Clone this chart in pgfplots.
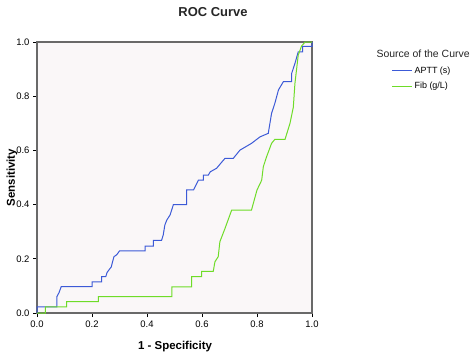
\documentclass[border=0pt]{standalone}
\usepackage{pgfplots}
\pgfplotsset{compat=1.18}
\usepackage{fontspec}
\setmainfont{Liberation Sans}
\definecolor{apttblue}{RGB}{60,90,215}
\definecolor{fibgreen}{RGB}{110,220,40}
\definecolor{plotbg}{RGB}{250,247,248}
\definecolor{framegray}{RGB}{105,105,105}
\begin{document}
\begin{tikzpicture}
\begin{axis}[
  at={(0bp,0bp)}, anchor=south west,
  scale only axis, width=275bp, height=271bp,
  xmin=0, xmax=1, ymin=0, ymax=1,
  xtick={0,0.2,...,1.0}, ytick={0,0.2,...,1.0},
  xticklabel style={/pgf/number format/.cd,fixed,fixed zerofill,precision=1},
  yticklabel style={/pgf/number format/.cd,fixed,fixed zerofill,precision=1},
  /pgf/number format/assume math mode=true,
  ticklabel style={font=\fontsize{9.5}{10}\selectfont},
  tick align=outside, tick pos=left,
  major tick length=4bp,
  tick style={black, line width=0.8bp},
  axis line style={framegray, line width=1.1bp},
  axis background/.style={fill=plotbg},
  xlabel={\textbf{1 - Specificity}},
  ylabel={\textbf{Sensitivity}},
  label style={font=\fontsize{11.5}{12}\selectfont},
  xlabel style={at={(axis description cs:0.502,-0.125)}, anchor=center},
  ylabel style={at={(axis description cs:-0.091,0.5)}, anchor=center},
  legend style={at={(axis description cs:1.285,0.92)}, anchor=north west,
    draw=none, fill=none, font=\fontsize{9}{10}\selectfont,
    row sep=3.5bp, inner sep=1bp},
  legend cell align=left,
  legend image code/.code={\draw[#1] (0bp,0bp) -- (20bp,0bp);},
  clip=false,
]
\addplot[apttblue, line width=1bp] coordinates {
(0,0) (0,0.023) (0.072,0.023) (0.072,0.06) (0.08,0.075) (0.088,0.097)
(0.2,0.097) (0.2,0.115) (0.235,0.115) (0.235,0.134) (0.25,0.134)
(0.255,0.15) (0.27,0.17) (0.275,0.19) (0.28,0.208) (0.29,0.215) (0.30,0.229)
(0.393,0.229) (0.393,0.247) (0.423,0.247) (0.423,0.268) (0.453,0.268)
(0.459,0.288) (0.465,0.325) (0.472,0.343) (0.484,0.362) (0.496,0.40)
(0.544,0.40) (0.544,0.454) (0.569,0.454) (0.575,0.466) (0.587,0.49)
(0.605,0.49) (0.605,0.509) (0.623,0.509) (0.63,0.521) (0.653,0.534)
(0.672,0.557) (0.684,0.571) (0.714,0.571) (0.738,0.601) (0.78,0.626)
(0.811,0.65) (0.841,0.663) (0.847,0.70) (0.853,0.737) (0.865,0.774)
(0.878,0.823) (0.896,0.854) (0.926,0.854) (0.926,0.884) (0.938,0.921)
(0.95,0.964) (0.966,0.964) (0.966,0.984) (1,0.984) (1,1)
};
\addlegendentry{APTT (s)}
\addplot[fibgreen, line width=1bp] coordinates {
(0,0) (0.03,0) (0.03,0.023) (0.108,0.023) (0.108,0.042) (0.223,0.042)
(0.223,0.06) (0.49,0.06) (0.49,0.096) (0.562,0.096) (0.562,0.134)
(0.599,0.134) (0.599,0.154) (0.641,0.154) (0.647,0.189) (0.659,0.208)
(0.665,0.263) (0.684,0.313) (0.708,0.38) (0.78,0.38) (0.8,0.454)
(0.817,0.49) (0.823,0.54) (0.835,0.577) (0.853,0.626) (0.865,0.641)
(0.902,0.641) (0.92,0.70) (0.932,0.759) (0.938,0.848) (0.95,0.952)
(0.962,0.985) (0.975,1.0) (1,1)
};
\addlegendentry{Fib (g/L)}
\node[font=\bfseries\fontsize{13}{14}\selectfont, text=black!85] at (axis description cs:0.64,1.11) {ROC Curve};
\node[font=\fontsize{10.5}{12}\selectfont, text=black!85] at (axis description cs:1.404,0.956) {Source of the Curve};
\end{axis}
\path[use as bounding box] (-37bp,-42bp) rectangle (437bp,313bp);
\end{tikzpicture}
\end{document}
